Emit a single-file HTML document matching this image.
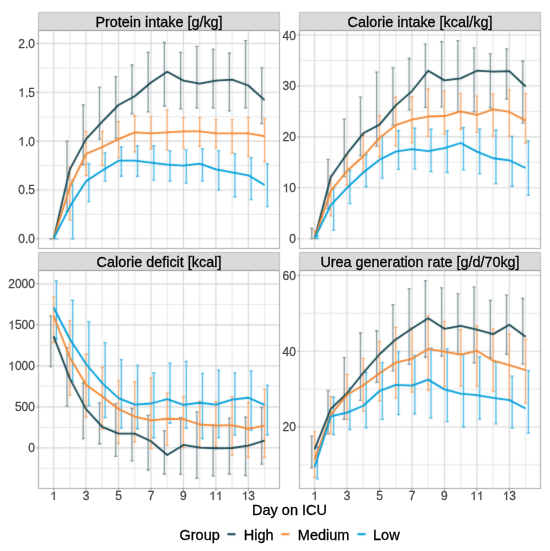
<!DOCTYPE html>
<html><head><meta charset="utf-8"><title>ICU nutrition by group</title>
<style>
html,body{margin:0;padding:0;background:#fff;}
body{width:550px;height:551px;overflow:hidden;}
svg{display:block;font-family:"Liberation Sans", sans-serif;will-change:transform;}
</style></head>
<body>
<svg width="550" height="551" viewBox="0 0 550 551">
<defs><filter id="soft" x="0" y="0" width="100%" height="100%" filterUnits="userSpaceOnUse" color-interpolation-filters="sRGB"><feConvolveMatrix order="3" kernelMatrix="1 2 1 2 20 2 1 2 1" divisor="32" edgeMode="duplicate"/></filter></defs>
<g filter="url(#soft)">
<rect width="550" height="551" fill="#fff"/>
<rect x="38.5" y="30.5" width="241.0" height="218.0" fill="#fff"/>
<path d="M38.5 214.34H279.5M38.5 165.53H279.5M38.5 116.72H279.5M38.5 67.91H279.5M69.83 30.5V248.5M102.29 30.5V248.5M134.75 30.5V248.5M167.21 30.5V248.5M199.67 30.5V248.5M232.13 30.5V248.5M264.59 30.5V248.5" stroke="#e4e4e4" stroke-width="0.9" fill="none"/>
<path d="M38.5 238.75H279.5M38.5 189.94H279.5M38.5 141.12H279.5M38.5 92.31H279.5M38.5 43.5H279.5M53.6 30.5V248.5M86.06 30.5V248.5M118.52 30.5V248.5M150.98 30.5V248.5M183.44 30.5V248.5M215.9 30.5V248.5M248.36 30.5V248.5" stroke="#d6d6d6" stroke-width="1.1" fill="none"/>
<path d="M50.8 238.75V238.75M49.2 238.75H52.4M49.2 238.75H52.4M67.03 141.12V211.41M65.43 141.12H68.63M65.43 211.41H68.63M83.26 105V164.56M81.66 105H84.86M81.66 164.56H84.86M99.49 87.43V139.17M97.89 87.43H101.09M97.89 139.17H101.09M115.72 76.69V138.2M114.12 76.69H117.32M114.12 138.2H117.32M131.95 64.98V113.79M130.35 64.98H133.55M130.35 113.79H133.55M148.18 52.29V111.84M146.58 52.29H149.78M146.58 111.84H149.78M164.41 42.52V105.98M162.81 42.52H166.01M162.81 105.98H166.01M180.64 52.29V108.91M179.04 52.29H182.24M179.04 108.91H182.24M196.87 46.43V107.93M195.27 46.43H198.47M195.27 107.93H198.47M213.1 49.36V107.93M211.5 49.36H214.7M211.5 107.93H214.7M229.33 53.26V110.86M227.73 53.26H230.93M227.73 110.86H230.93M245.56 40.57V107.93M243.96 40.57H247.16M243.96 107.93H247.16M261.79 67.91V123.55M260.19 67.91H263.39M260.19 123.55H263.39" stroke="#7f9398" stroke-width="1.3" fill="none"/>
<path d="M53.6 238.75V238.75M52 238.75H55.2M52 238.75H55.2M69.83 167.48V220.2M68.23 167.48H71.43M68.23 220.2H71.43M86.06 131.36V175.29M84.46 131.36H87.66M84.46 175.29H87.66M102.29 131.36V165.53M100.69 131.36H103.89M100.69 165.53H103.89M118.52 121.6V157.72M116.92 121.6H120.12M116.92 157.72H120.12M134.75 115.74V151.86M133.15 115.74H136.35M133.15 151.86H136.35M150.98 116.72V148.94M149.38 116.72H152.58M149.38 148.94H152.58M167.21 109.88V149.91M165.61 109.88H168.81M165.61 149.91H168.81M183.44 117.7V147.96M181.84 117.7H185.04M181.84 147.96H185.04M199.67 117.7V146.01M198.07 117.7H201.27M198.07 146.01H201.27M215.9 119.65V147.96M214.3 119.65H217.5M214.3 147.96H217.5M232.13 119.65V152.84M230.53 119.65H233.73M230.53 152.84H233.73M248.36 117.7V155.77M246.76 117.7H249.96M246.76 155.77H249.96M264.59 118.67V161.63M262.99 118.67H266.19M262.99 161.63H266.19" stroke="#f6a86c" stroke-width="1.3" fill="none"/>
<path d="M56.4 238.75V238.75M54.8 238.75H58M54.8 238.75H58M72.63 180.18V238.75M71.03 180.18H74.23M71.03 238.75H74.23M88.86 163.58V201.65M87.26 163.58H90.46M87.26 201.65H90.46M105.09 152.84V181.15M103.49 152.84H106.69M103.49 181.15H106.69M121.32 146.98V176.27M119.72 146.98H122.92M119.72 176.27H122.92M137.55 146.01V176.27M135.95 146.01H139.15M135.95 176.27H139.15M153.78 146.01V180.18M152.18 146.01H155.38M152.18 180.18H155.38M170.01 150.89V181.15M168.41 150.89H171.61M168.41 181.15H171.61M186.24 149.91V183.1M184.64 149.91H187.84M184.64 183.1H187.84M202.47 148.94V181.15M200.87 148.94H204.07M200.87 181.15H204.07M218.7 150.89V189.94M217.1 150.89H220.3M217.1 189.94H220.3M234.93 153.82V196.77M233.33 153.82H236.53M233.33 196.77H236.53M251.16 157.72V199.7M249.56 157.72H252.76M249.56 199.7H252.76M267.39 163.58V206.53M265.79 163.58H268.99M265.79 206.53H268.99" stroke="#45b8e6" stroke-width="1.3" fill="none"/>
<polyline points="53.6,238.75 69.83,169.44 86.06,139.17 102.29,121.6 118.52,105 134.75,96.22 150.98,82.55 167.21,71.81 183.44,80.6 199.67,83.53 215.9,80.6 232.13,79.62 248.36,85.48 264.59,100.12" stroke="#164650" stroke-width="1.8" fill="none" stroke-linejoin="round"/>
<polyline points="53.6,238.75 69.83,187.01 86.06,153.82 102.29,146.98 118.52,139.17 134.75,132.34 150.98,133.31 167.21,132.34 183.44,131.36 199.67,131.36 215.9,133.31 232.13,133.31 248.36,133.31 264.59,136.24" stroke="#f28732" stroke-width="1.8" fill="none" stroke-linejoin="round"/>
<polyline points="53.6,238.75 69.83,206.53 86.06,181.15 102.29,170.41 118.52,160.65 134.75,160.65 150.98,162.6 167.21,164.56 183.44,165.53 199.67,163.58 215.9,169.44 232.13,172.37 248.36,175.29 264.59,185.06" stroke="#009fda" stroke-width="1.8" fill="none" stroke-linejoin="round"/>
<rect x="38.5" y="30.5" width="241.0" height="218.0" fill="none" stroke="#a8a8a8" stroke-width="1"/>
<rect x="38.5" y="12.5" width="241.0" height="18.0" fill="#d9d9d9" stroke="#bdbdbd" stroke-width="1"/>
<path d="M38.5 30.5H279.5" stroke="#959595" stroke-width="1.1"/>
<path d="M36.3 238.75H38.5M36.3 189.94H38.5M36.3 141.12H38.5M36.3 92.31H38.5M36.3 43.5H38.5" stroke="#8a8a8a" stroke-width="1"/>
<rect x="299.5" y="30.5" width="241.0" height="218.0" fill="#fff"/>
<path d="M299.5 213.24H540.5M299.5 162.33H540.5M299.5 111.42H540.5M299.5 60.51H540.5M330.83 30.5V248.5M363.29 30.5V248.5M395.75 30.5V248.5M428.21 30.5V248.5M460.67 30.5V248.5M493.13 30.5V248.5M525.59 30.5V248.5" stroke="#e4e4e4" stroke-width="0.9" fill="none"/>
<path d="M299.5 238.7H540.5M299.5 187.79H540.5M299.5 136.88H540.5M299.5 85.97H540.5M299.5 35.06H540.5M314.6 30.5V248.5M347.06 30.5V248.5M379.52 30.5V248.5M411.98 30.5V248.5M444.44 30.5V248.5M476.9 30.5V248.5M509.36 30.5V248.5" stroke="#d6d6d6" stroke-width="1.1" fill="none"/>
<path d="M311.8 228.52V238.7M310.2 228.52H313.4M310.2 238.7H313.4M328.03 159.28V208.66M326.43 159.28H329.63M326.43 208.66H329.63M344.26 119.06V176.59M342.66 119.06H345.86M342.66 176.59H345.86M360.49 97.17V155.72M358.89 97.17H362.09M358.89 155.72H362.09M376.72 72.22V146.04M375.12 72.22H378.32M375.12 146.04H378.32M392.95 67.64V125.17M391.35 67.64H394.55M391.35 125.17H394.55M409.18 58.48V109.9M407.58 58.48H410.78M407.58 109.9H410.78M425.41 44.22V107.35M423.81 44.22H427.01M423.81 107.35H427.01M441.64 41.68V106.84M440.04 41.68H443.24M440.04 106.84H443.24M457.87 40.66V111.93M456.27 40.66H459.47M456.27 111.93H459.47M474.1 47.79V111.93M472.5 47.79H475.7M472.5 111.93H475.7M490.33 53.9V107.86M488.73 53.9H491.93M488.73 107.86H491.93M506.56 48.81V99.21M504.96 48.81H508.16M504.96 99.21H508.16M522.79 61.02V123.13M521.19 61.02H524.39M521.19 123.13H524.39" stroke="#7f9398" stroke-width="1.3" fill="none"/>
<path d="M314.6 231.06V238.7M313 231.06H316.2M313 238.7H316.2M330.83 175.57V215.79M329.23 175.57H332.43M329.23 215.79H332.43M347.06 154.7V185.24M345.46 154.7H348.66M345.46 185.24H348.66M363.29 135.35V172.01M361.69 135.35H364.89M361.69 172.01H364.89M379.52 115.5V156.73M377.92 115.5H381.12M377.92 156.73H381.12M395.75 97.17V146.04M394.15 97.17H397.35M394.15 146.04H397.35M411.98 96.66V142.48M410.38 96.66H413.58M410.38 142.48H413.58M428.21 89.02V136.37M426.61 89.02H429.81M426.61 136.37H429.81M444.44 91.06V133.83M442.84 91.06H446.04M442.84 133.83H446.04M460.67 93.61V129.24M459.07 93.61H462.27M459.07 129.24H462.27M476.9 96.15V132.3M475.3 96.15H478.5M475.3 132.3H478.5M493.13 94.12V136.37M491.53 94.12H494.73M491.53 136.37H494.73M509.36 90.04V136.37M507.76 90.04H510.96M507.76 136.37H510.96M525.59 93.61V142.99M523.99 93.61H527.19M523.99 142.99H527.19" stroke="#f6a86c" stroke-width="1.3" fill="none"/>
<path d="M317.4 236.15V238.7M315.8 236.15H319M315.8 238.7H319M333.63 187.79V230.05M332.03 187.79H335.23M332.03 230.05H335.23M349.86 170.48V203.57M348.26 170.48H351.46M348.26 203.57H351.46M366.09 154.7V186.77M364.49 154.7H367.69M364.49 186.77H367.69M382.32 135.86V178.12M380.72 135.86H383.92M380.72 178.12H383.92M398.55 130.77V169.46M396.95 130.77H400.15M396.95 169.46H400.15M414.78 128.23V168.95M413.18 128.23H416.38M413.18 168.95H416.38M431.01 129.24V171.5M429.41 129.24H432.61M429.41 171.5H432.61M447.24 130.77V172.52M445.64 130.77H448.84M445.64 172.52H448.84M463.47 127.72V169.97M461.87 127.72H465.07M461.87 169.97H465.07M479.7 129.24V173.54M478.1 129.24H481.3M478.1 173.54H481.3M495.93 130.26V183.72M494.33 130.26H497.53M494.33 183.72H497.53M512.16 136.37V186.26M510.56 136.37H513.76M510.56 186.26H513.76M528.39 140.95V195.43M526.79 140.95H529.99M526.79 195.43H529.99" stroke="#45b8e6" stroke-width="1.3" fill="none"/>
<polyline points="314.6,238.45 330.83,177.1 347.06,153.68 363.29,133.32 379.52,124.66 395.75,105.32 411.98,91.06 428.21,70.7 444.44,80.37 460.67,78.33 476.9,70.7 493.13,71.72 509.36,71.21 525.59,86.48" stroke="#164650" stroke-width="1.8" fill="none" stroke-linejoin="round"/>
<polyline points="314.6,238.45 330.83,190.84 347.06,170.99 363.29,156.23 379.52,137.9 395.75,125.17 411.98,119.57 428.21,116.52 444.44,116.01 460.67,111.42 476.9,114.99 493.13,109.39 509.36,111.93 525.59,120.59" stroke="#f28732" stroke-width="1.8" fill="none" stroke-linejoin="round"/>
<polyline points="314.6,238.45 330.83,205.1 347.06,187.79 363.29,172.52 379.52,159.79 395.75,151.64 411.98,149.1 428.21,151.13 444.44,148.08 460.67,142.99 476.9,151.64 493.13,158.26 509.36,160.3 525.59,167.94" stroke="#009fda" stroke-width="1.8" fill="none" stroke-linejoin="round"/>
<rect x="299.5" y="30.5" width="241.0" height="218.0" fill="none" stroke="#a8a8a8" stroke-width="1"/>
<rect x="299.5" y="12.5" width="241.0" height="18.0" fill="#d9d9d9" stroke="#bdbdbd" stroke-width="1"/>
<path d="M299.5 30.5H540.5" stroke="#959595" stroke-width="1.1"/>
<path d="M297.3 238.7H299.5M297.3 187.79H299.5M297.3 136.88H299.5M297.3 85.97H299.5M297.3 35.06H299.5" stroke="#8a8a8a" stroke-width="1"/>
<rect x="38.5" y="270.5" width="241.0" height="218.0" fill="#fff"/>
<path d="M38.5 468.35H279.5M38.5 427.36H279.5M38.5 386.37H279.5M38.5 345.38H279.5M38.5 304.38H279.5M69.83 270.5V488.5M102.29 270.5V488.5M134.75 270.5V488.5M167.21 270.5V488.5M199.67 270.5V488.5M232.13 270.5V488.5M264.59 270.5V488.5" stroke="#e4e4e4" stroke-width="0.9" fill="none"/>
<path d="M38.5 447.85H279.5M38.5 406.86H279.5M38.5 365.87H279.5M38.5 324.88H279.5M38.5 283.89H279.5M53.6 270.5V488.5M86.06 270.5V488.5M118.52 270.5V488.5M150.98 270.5V488.5M183.44 270.5V488.5M215.9 270.5V488.5M248.36 270.5V488.5" stroke="#d6d6d6" stroke-width="1.1" fill="none"/>
<path d="M50.8 315.78V366.61M49.2 315.78H52.4M49.2 366.61H52.4M67.03 347.67V406.29M65.43 347.67H68.63M65.43 406.29H68.63M83.26 383V438.59M81.66 383H84.86M81.66 438.59H84.86M99.49 402.92V443.75M97.89 402.92H101.09M97.89 443.75H101.09M115.72 403.66V456.46M114.12 403.66H117.32M114.12 456.46H117.32M131.95 408.5V460.88M130.35 408.5H133.55M130.35 460.88H133.55M148.18 415.47V469.98M146.58 415.47H149.78M146.58 469.98H149.78M164.41 430.63V474M162.81 430.63H166.01M162.81 474H166.01M180.64 417.76V474.41M179.04 417.76H182.24M179.04 474.41H182.24M196.87 411.78V478.35M195.27 411.78H198.47M195.27 478.35H198.47M213.1 424.81V475.97M211.5 424.81H214.7M211.5 475.97H214.7M229.33 418.17V474M227.73 418.17H230.93M227.73 474H230.93M245.56 417.27V475.48M243.96 417.27H247.16M243.96 475.48H247.16M261.79 407.52V464.08M260.19 407.52H263.39M260.19 464.08H263.39" stroke="#7f9398" stroke-width="1.3" fill="none"/>
<path d="M53.6 296.6V342.26M52 296.6H55.2M52 342.26H55.2M69.83 320.94V395.38M68.23 320.94H71.43M68.23 395.38H71.43M86.06 354.23V417.19M84.46 354.23H87.66M84.46 417.19H87.66M102.29 367.26V429.16M100.69 367.26H103.89M100.69 429.16H103.89M118.52 380.79V443.34M116.92 380.79H120.12M116.92 443.34H120.12M134.75 382.02V441.87M133.15 382.02H136.35M133.15 441.87H136.35M150.98 378V448.59M149.38 378H152.58M149.38 448.59H152.58M167.21 393.17V445.39M165.61 393.17H168.81M165.61 445.39H168.81M183.44 396.53V447.69M181.84 396.53H185.04M181.84 447.69H185.04M199.67 401.29V446.7M198.07 401.29H201.27M198.07 446.7H201.27M215.9 401.7V446.95M214.3 401.7H217.5M214.3 446.95H217.5M232.13 396.53V455.15M230.53 396.53H233.73M230.53 455.15H233.73M248.36 402.52V457.28M246.76 402.52H249.96M246.76 457.28H249.96M264.59 389.4V457.28M262.99 389.4H266.19M262.99 457.28H266.19" stroke="#f6a86c" stroke-width="1.3" fill="none"/>
<path d="M56.4 281.02V338.98M54.8 281.02H58M54.8 338.98H58M72.63 300.29V381.2M71.03 300.29H74.23M71.03 381.2H74.23M88.86 321.6V405.55M87.26 321.6H90.46M87.26 405.55H90.46M105.09 342.67V417.52M103.49 342.67H106.69M103.49 417.52H106.69M121.32 359.56V428.09M119.72 359.56H122.92M119.72 428.09H122.92M137.55 365.46V428.75M135.95 365.46H139.15M135.95 428.75H139.15M153.78 373V437.77M152.18 373H155.38M152.18 437.77H155.38M170.01 363.08V423.26M168.41 363.08H171.61M168.41 423.26H171.61M186.24 361.44V428.34M184.64 361.44H187.84M184.64 428.34H187.84M202.47 373.41V438.5M200.87 373.41H204.07M200.87 438.5H204.07M218.7 370.13V437.68M217.1 370.13H220.3M217.1 437.68H220.3M234.93 372.84V435.14M233.33 372.84H236.53M233.33 435.14H236.53M251.16 370.79V430.39M249.56 370.79H252.76M249.56 430.39H252.76M267.39 385.05V434.73M265.79 385.05H268.99M265.79 434.73H268.99" stroke="#45b8e6" stroke-width="1.3" fill="none"/>
<polyline points="53.6,336.19 69.83,378.58 86.06,409.07 102.29,426.95 118.52,433.59 134.75,433.59 150.98,441.29 167.21,455.06 183.44,444.98 199.67,447.6 215.9,448.26 232.13,448.01 248.36,445.55 264.59,440.64" stroke="#164650" stroke-width="1.8" fill="none" stroke-linejoin="round"/>
<polyline points="53.6,315.78 69.83,357.51 86.06,384.81 102.29,396.45 118.52,409.07 134.75,416.53 150.98,420.3 167.21,418.75 183.44,419.16 199.67,424.49 215.9,425.63 232.13,425.06 248.36,428.75 264.59,425.63" stroke="#f28732" stroke-width="1.8" fill="none" stroke-linejoin="round"/>
<polyline points="53.6,307.5 69.83,338.98 86.06,363.98 102.29,383.09 118.52,398.17 134.75,404.56 150.98,403.5 167.21,399.07 183.44,404.89 199.67,402.76 215.9,404.56 232.13,399.56 248.36,397.76 264.59,404.89" stroke="#009fda" stroke-width="1.8" fill="none" stroke-linejoin="round"/>
<rect x="38.5" y="270.5" width="241.0" height="218.0" fill="none" stroke="#a8a8a8" stroke-width="1"/>
<rect x="38.5" y="252.5" width="241.0" height="18.0" fill="#d9d9d9" stroke="#bdbdbd" stroke-width="1"/>
<path d="M38.5 270.5H279.5" stroke="#959595" stroke-width="1.1"/>
<path d="M36.3 447.85H38.5M36.3 406.86H38.5M36.3 365.87H38.5M36.3 324.88H38.5M36.3 283.89H38.5" stroke="#8a8a8a" stroke-width="1"/>
<path d="M53.6 488.5V490.7M86.06 488.5V490.7M118.52 488.5V490.7M150.98 488.5V490.7M183.44 488.5V490.7M215.9 488.5V490.7M248.36 488.5V490.7" stroke="#8a8a8a" stroke-width="1"/>
<rect x="299.5" y="270.5" width="241.0" height="218.0" fill="#fff"/>
<path d="M299.5 464.9H540.5M299.5 389.1H540.5M299.5 313.3H540.5M330.83 270.5V488.5M363.29 270.5V488.5M395.75 270.5V488.5M428.21 270.5V488.5M460.67 270.5V488.5M493.13 270.5V488.5M525.59 270.5V488.5" stroke="#e4e4e4" stroke-width="0.9" fill="none"/>
<path d="M299.5 427H540.5M299.5 351.2H540.5M299.5 275.4H540.5M314.6 270.5V488.5M347.06 270.5V488.5M379.52 270.5V488.5M411.98 270.5V488.5M444.44 270.5V488.5M476.9 270.5V488.5M509.36 270.5V488.5" stroke="#d6d6d6" stroke-width="1.1" fill="none"/>
<path d="M311.8 436.1V467.93M310.2 436.1H313.4M310.2 467.93H313.4M328.03 390.62V433.82M326.43 390.62H329.63M326.43 433.82H329.63M344.26 357.64V419.42M342.66 357.64H345.86M342.66 419.42H345.86M360.49 333.01V400.47M358.89 333.01H362.09M358.89 400.47H362.09M376.72 330.73V382.28M375.12 330.73H378.32M375.12 382.28H378.32M392.95 304.58V370.91M391.35 304.58H394.55M391.35 370.91H394.55M409.18 288.67V364.47M407.58 288.67H410.78M407.58 364.47H410.78M425.41 280.71V357.26M423.81 280.71H427.01M423.81 357.26H427.01M441.64 287.91V356.13M440.04 287.91H443.24M440.04 356.13H443.24M457.87 293.97V354.23M456.27 293.97H459.47M456.27 354.23H459.47M474.1 287.15V362.95M472.5 287.15H475.7M472.5 362.95H475.7M490.33 300.41V357.64M488.73 300.41H491.93M488.73 357.64H491.93M506.56 295.11V354.23M504.96 295.11H508.16M504.96 354.23H508.16M522.79 298.52V364.09M521.19 298.52H524.39M521.19 364.09H524.39" stroke="#7f9398" stroke-width="1.3" fill="none"/>
<path d="M314.6 431.93V477.03M313 431.93H316.2M313 477.03H316.2M330.83 396.68V433.82M329.23 396.68H332.43M329.23 433.82H332.43M347.06 374.32V419.42M345.46 374.32H348.66M345.46 419.42H348.66M363.29 358.4V411.08M361.69 358.4H364.89M361.69 411.08H364.89M379.52 341.73V400.85M377.92 341.73H381.12M377.92 400.85H381.12M395.75 327.32V398.2M394.15 327.32H397.35M394.15 398.2H397.35M411.98 327.7V392.13M410.38 327.7H413.58M410.38 392.13H413.58M428.21 315.57V390.24M426.61 315.57H429.81M426.61 390.24H429.81M444.44 321.64V386.83M442.84 321.64H446.04M442.84 386.83H446.04M460.67 329.6V386.07M459.07 329.6H462.27M459.07 386.07H462.27M476.9 325.81V386.07M475.3 325.81H478.5M475.3 386.07H478.5M493.13 328.84V391.37M491.53 328.84H494.73M491.53 391.37H494.73M509.36 334.14V399.33M507.76 334.14H510.96M507.76 399.33H510.96M525.59 339.45V402.74M523.99 339.45H527.19M523.99 402.74H527.19" stroke="#f6a86c" stroke-width="1.3" fill="none"/>
<path d="M317.4 446.71V478.92M315.8 446.71H319M315.8 478.92H319M333.63 397.06V434.58M332.03 397.06H335.23M332.03 434.58H335.23M349.86 387.96V429.65M348.26 387.96H351.46M348.26 429.65H351.46M366.09 372.42V427.76M364.49 372.42H367.69M364.49 427.76H367.69M382.32 362.57V419.42M380.72 362.57H383.92M380.72 419.42H383.92M398.55 351.58V414.49M396.95 351.58H400.15M396.95 414.49H400.15M414.78 355.37V413.74M413.18 355.37H416.38M413.18 413.74H416.38M431.01 348.17V417.9M429.41 348.17H432.61M429.41 417.9H432.61M447.24 348.93V421.69M445.64 348.93H448.84M445.64 421.69H448.84M463.47 354.23V427M461.87 354.23H465.07M461.87 427H465.07M479.7 356.88V419.04M478.1 356.88H481.3M478.1 419.04H481.3M495.93 362.19V423.97M494.33 362.19H497.53M494.33 423.97H497.53M512.16 376.21V428.14M510.56 376.21H513.76M510.56 428.14H513.76M528.39 370.53V433.06M526.79 370.53H529.99M526.79 433.06H529.99" stroke="#45b8e6" stroke-width="1.3" fill="none"/>
<polyline points="314.6,449.36 330.83,408.81 347.06,393.27 363.29,372.8 379.52,354.23 395.75,339.45 411.98,328.46 428.21,318.23 444.44,328.84 460.67,325.81 476.9,329.6 493.13,334.14 509.36,324.67 525.59,336.8" stroke="#164650" stroke-width="1.8" fill="none" stroke-linejoin="round"/>
<polyline points="314.6,459.59 330.83,414.87 347.06,394.79 363.29,385.31 379.52,373.18 395.75,362.57 411.98,358.78 428.21,348.93 444.44,351.58 460.67,354.61 476.9,350.82 493.13,360.68 509.36,365.22 525.59,370.15" stroke="#f28732" stroke-width="1.8" fill="none" stroke-linejoin="round"/>
<polyline points="314.6,467.17 330.83,416.39 347.06,412.6 363.29,405.78 379.52,391 395.75,384.93 411.98,385.69 428.21,379.62 444.44,389.48 460.67,393.65 476.9,395.16 493.13,397.82 509.36,400.09 525.59,408.43" stroke="#009fda" stroke-width="1.8" fill="none" stroke-linejoin="round"/>
<rect x="299.5" y="270.5" width="241.0" height="218.0" fill="none" stroke="#a8a8a8" stroke-width="1"/>
<rect x="299.5" y="252.5" width="241.0" height="18.0" fill="#d9d9d9" stroke="#bdbdbd" stroke-width="1"/>
<path d="M299.5 270.5H540.5" stroke="#959595" stroke-width="1.1"/>
<path d="M297.3 427H299.5M297.3 351.2H299.5M297.3 275.4H299.5" stroke="#8a8a8a" stroke-width="1"/>
<path d="M314.6 488.5V490.7M347.06 488.5V490.7M379.52 488.5V490.7M411.98 488.5V490.7M444.44 488.5V490.7M476.9 488.5V490.7M509.36 488.5V490.7" stroke="#8a8a8a" stroke-width="1"/>
<path d="M227.4 534.2H235.5" stroke="#164650" stroke-width="2.1"/>
<path d="M281.3 534.2H289.40000000000003" stroke="#f28732" stroke-width="2.1"/>
<path d="M357.5 534.2H365.6" stroke="#009fda" stroke-width="2.1"/>
</g>
<g stroke-width="0.3">
<text x="159" y="26.7" text-anchor="middle" font-size="14.4" fill="#000" stroke="#000">Protein intake [g/kg]</text>
<text x="18.22" y="243.2" font-size="12" fill="#4d4d4d" stroke="#4d4d4d">0</text><text x="24.89" y="243.2" font-size="12" fill="#4d4d4d" stroke="#4d4d4d">.</text><text x="28.23" y="243.2" font-size="12" fill="#4d4d4d" stroke="#4d4d4d">0</text>
<text x="18.22" y="194.39" font-size="12" fill="#4d4d4d" stroke="#4d4d4d">0</text><text x="24.89" y="194.39" font-size="12" fill="#4d4d4d" stroke="#4d4d4d">.</text><text x="28.23" y="194.39" font-size="12" fill="#4d4d4d" stroke="#4d4d4d">5</text>
<path d="M22.69 145.57L21.63 145.57L21.63 138.85C21.38 139.09 21.05 139.33 20.64 139.57C20.23 139.82 19.86 140 19.54 140.12L19.54 139.1C20.12 138.82 20.63 138.5 21.07 138.11C21.51 137.72 21.81 137.35 21.99 136.99L22.69 136.99Z" fill="#4d4d4d" stroke="#4d4d4d"/><text x="24.89" y="145.57" font-size="12" fill="#4d4d4d" stroke="#4d4d4d">.</text><text x="28.23" y="145.57" font-size="12" fill="#4d4d4d" stroke="#4d4d4d">0</text>
<path d="M22.69 96.76L21.63 96.76L21.63 90.04C21.38 90.28 21.05 90.52 20.64 90.76C20.23 91 19.86 91.18 19.54 91.31L19.54 90.29C20.12 90.01 20.63 89.68 21.07 89.3C21.51 88.91 21.81 88.54 21.99 88.17L22.69 88.17Z" fill="#4d4d4d" stroke="#4d4d4d"/><text x="24.89" y="96.76" font-size="12" fill="#4d4d4d" stroke="#4d4d4d">.</text><text x="28.23" y="96.76" font-size="12" fill="#4d4d4d" stroke="#4d4d4d">5</text>
<text x="18.22" y="47.95" font-size="12" fill="#4d4d4d" stroke="#4d4d4d">2</text><text x="24.89" y="47.95" font-size="12" fill="#4d4d4d" stroke="#4d4d4d">.</text><text x="28.23" y="47.95" font-size="12" fill="#4d4d4d" stroke="#4d4d4d">0</text>
<text x="420" y="26.7" text-anchor="middle" font-size="14.4" fill="#000" stroke="#000">Calorie intake [kcal/kg]</text>
<text x="289.23" y="243.15" font-size="12" fill="#4d4d4d" stroke="#4d4d4d">0</text>
<path d="M287.02 192.24L285.97 192.24L285.97 185.52C285.72 185.76 285.38 186 284.97 186.24C284.57 186.48 284.2 186.66 283.88 186.78L283.88 185.77C284.46 185.49 284.97 185.16 285.4 184.78C285.84 184.39 286.14 184.01 286.33 183.65L287.02 183.65Z" fill="#4d4d4d" stroke="#4d4d4d"/><text x="289.23" y="192.24" font-size="12" fill="#4d4d4d" stroke="#4d4d4d">0</text>
<text x="282.55" y="141.33" font-size="12" fill="#4d4d4d" stroke="#4d4d4d">2</text><text x="289.23" y="141.33" font-size="12" fill="#4d4d4d" stroke="#4d4d4d">0</text>
<text x="282.55" y="90.42" font-size="12" fill="#4d4d4d" stroke="#4d4d4d">3</text><text x="289.23" y="90.42" font-size="12" fill="#4d4d4d" stroke="#4d4d4d">0</text>
<text x="282.55" y="39.51" font-size="12" fill="#4d4d4d" stroke="#4d4d4d">4</text><text x="289.23" y="39.51" font-size="12" fill="#4d4d4d" stroke="#4d4d4d">0</text>
<text x="159" y="266.7" text-anchor="middle" font-size="14.4" fill="#000" stroke="#000">Calorie deficit [kcal]</text>
<text x="28.23" y="452.3" font-size="12" fill="#4d4d4d" stroke="#4d4d4d">0</text>
<text x="14.88" y="411.31" font-size="12" fill="#4d4d4d" stroke="#4d4d4d">5</text><text x="21.55" y="411.31" font-size="12" fill="#4d4d4d" stroke="#4d4d4d">0</text><text x="28.23" y="411.31" font-size="12" fill="#4d4d4d" stroke="#4d4d4d">0</text>
<path d="M12.68 370.32L11.62 370.32L11.62 363.6C11.37 363.84 11.03 364.08 10.62 364.32C10.22 364.56 9.85 364.74 9.53 364.86L9.53 363.85C10.11 363.57 10.62 363.24 11.05 362.86C11.49 362.47 11.8 362.09 11.98 361.73L12.68 361.73Z" fill="#4d4d4d" stroke="#4d4d4d"/><text x="14.88" y="370.32" font-size="12" fill="#4d4d4d" stroke="#4d4d4d">0</text><text x="21.55" y="370.32" font-size="12" fill="#4d4d4d" stroke="#4d4d4d">0</text><text x="28.23" y="370.32" font-size="12" fill="#4d4d4d" stroke="#4d4d4d">0</text>
<path d="M12.68 329.33L11.62 329.33L11.62 322.61C11.37 322.85 11.03 323.09 10.62 323.33C10.22 323.57 9.85 323.75 9.53 323.87L9.53 322.86C10.11 322.58 10.62 322.25 11.05 321.87C11.49 321.48 11.8 321.1 11.98 320.74L12.68 320.74Z" fill="#4d4d4d" stroke="#4d4d4d"/><text x="14.88" y="329.33" font-size="12" fill="#4d4d4d" stroke="#4d4d4d">5</text><text x="21.55" y="329.33" font-size="12" fill="#4d4d4d" stroke="#4d4d4d">0</text><text x="28.23" y="329.33" font-size="12" fill="#4d4d4d" stroke="#4d4d4d">0</text>
<text x="8.2" y="288.34" font-size="12" fill="#4d4d4d" stroke="#4d4d4d">2</text><text x="14.88" y="288.34" font-size="12" fill="#4d4d4d" stroke="#4d4d4d">0</text><text x="21.55" y="288.34" font-size="12" fill="#4d4d4d" stroke="#4d4d4d">0</text><text x="28.23" y="288.34" font-size="12" fill="#4d4d4d" stroke="#4d4d4d">0</text>
<path d="M54.73 500.1L53.68 500.1L53.68 493.38C53.43 493.62 53.09 493.86 52.68 494.1C52.28 494.34 51.91 494.52 51.59 494.64L51.59 493.63C52.17 493.35 52.68 493.02 53.11 492.64C53.55 492.25 53.85 491.87 54.04 491.51L54.73 491.51Z" fill="#4d4d4d" stroke="#4d4d4d"/>
<text x="82.72" y="500.1" font-size="12" fill="#4d4d4d" stroke="#4d4d4d">3</text>
<text x="115.18" y="500.1" font-size="12" fill="#4d4d4d" stroke="#4d4d4d">5</text>
<text x="147.64" y="500.1" font-size="12" fill="#4d4d4d" stroke="#4d4d4d">7</text>
<text x="180.1" y="500.1" font-size="12" fill="#4d4d4d" stroke="#4d4d4d">9</text>
<path d="M213.7 500.1L212.64 500.1L212.64 493.38C212.39 493.62 212.06 493.86 211.65 494.1C211.24 494.34 210.87 494.52 210.55 494.64L210.55 493.63C211.13 493.35 211.64 493.02 212.07 492.64C212.51 492.25 212.82 491.87 213 491.51L213.7 491.51Z" fill="#4d4d4d" stroke="#4d4d4d"/><path d="M220.37 500.1L219.32 500.1L219.32 493.38C219.06 493.62 218.73 493.86 218.32 494.1C217.92 494.34 217.55 494.52 217.22 494.64L217.22 493.63C217.8 493.35 218.31 493.02 218.75 492.64C219.19 492.25 219.49 491.87 219.67 491.51L220.37 491.51Z" fill="#4d4d4d" stroke="#4d4d4d"/>
<path d="M246.16 500.1L245.1 500.1L245.1 493.38C244.85 493.62 244.52 493.86 244.11 494.1C243.7 494.34 243.33 494.52 243.01 494.64L243.01 493.63C243.59 493.35 244.1 493.02 244.53 492.64C244.97 492.25 245.28 491.87 245.46 491.51L246.16 491.51Z" fill="#4d4d4d" stroke="#4d4d4d"/><text x="248.36" y="500.1" font-size="12" fill="#4d4d4d" stroke="#4d4d4d">3</text>
<text x="420" y="266.7" text-anchor="middle" font-size="14.4" fill="#000" stroke="#000">Urea generation rate [g/d/70kg]</text>
<text x="282.55" y="431.45" font-size="12" fill="#4d4d4d" stroke="#4d4d4d">2</text><text x="289.23" y="431.45" font-size="12" fill="#4d4d4d" stroke="#4d4d4d">0</text>
<text x="282.55" y="355.65" font-size="12" fill="#4d4d4d" stroke="#4d4d4d">4</text><text x="289.23" y="355.65" font-size="12" fill="#4d4d4d" stroke="#4d4d4d">0</text>
<text x="282.55" y="279.85" font-size="12" fill="#4d4d4d" stroke="#4d4d4d">6</text><text x="289.23" y="279.85" font-size="12" fill="#4d4d4d" stroke="#4d4d4d">0</text>
<path d="M315.73 500.1L314.68 500.1L314.68 493.38C314.43 493.62 314.09 493.86 313.68 494.1C313.28 494.34 312.91 494.52 312.59 494.64L312.59 493.63C313.17 493.35 313.68 493.02 314.11 492.64C314.55 492.25 314.85 491.87 315.04 491.51L315.73 491.51Z" fill="#4d4d4d" stroke="#4d4d4d"/>
<text x="343.72" y="500.1" font-size="12" fill="#4d4d4d" stroke="#4d4d4d">3</text>
<text x="376.18" y="500.1" font-size="12" fill="#4d4d4d" stroke="#4d4d4d">5</text>
<text x="408.64" y="500.1" font-size="12" fill="#4d4d4d" stroke="#4d4d4d">7</text>
<text x="441.1" y="500.1" font-size="12" fill="#4d4d4d" stroke="#4d4d4d">9</text>
<path d="M474.7 500.1L473.64 500.1L473.64 493.38C473.39 493.62 473.06 493.86 472.65 494.1C472.24 494.34 471.87 494.52 471.55 494.64L471.55 493.63C472.13 493.35 472.64 493.02 473.07 492.64C473.51 492.25 473.82 491.87 474 491.51L474.7 491.51Z" fill="#4d4d4d" stroke="#4d4d4d"/><path d="M481.37 500.1L480.32 500.1L480.32 493.38C480.06 493.62 479.73 493.86 479.32 494.1C478.92 494.34 478.55 494.52 478.22 494.64L478.22 493.63C478.8 493.35 479.31 493.02 479.75 492.64C480.19 492.25 480.49 491.87 480.67 491.51L481.37 491.51Z" fill="#4d4d4d" stroke="#4d4d4d"/>
<path d="M507.16 500.1L506.1 500.1L506.1 493.38C505.85 493.62 505.52 493.86 505.11 494.1C504.7 494.34 504.33 494.52 504.01 494.64L504.01 493.63C504.59 493.35 505.1 493.02 505.53 492.64C505.97 492.25 506.28 491.87 506.46 491.51L507.16 491.51Z" fill="#4d4d4d" stroke="#4d4d4d"/><text x="509.36" y="500.1" font-size="12" fill="#4d4d4d" stroke="#4d4d4d">3</text>
<text x="289.5" y="514.5" text-anchor="middle" font-size="14.5" fill="#000" stroke="#000">Day on ICU</text>
<text x="179.5" y="539.8" font-size="14.5" fill="#000" stroke="#000">Group</text>
<text x="243.7" y="539.8" font-size="14.5" fill="#000" stroke="#000">High</text>
<text x="297.8" y="539.8" font-size="14.5" fill="#000" stroke="#000">Medium</text>
<text x="373.0" y="539.8" font-size="14.5" fill="#000" stroke="#000">Low</text>
</g></svg>
</body></html>
